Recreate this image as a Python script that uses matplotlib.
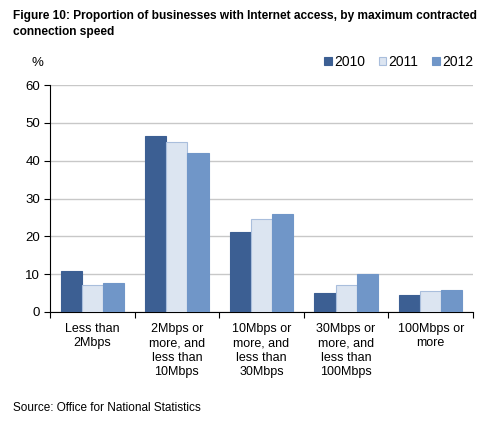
import numpy as np
import matplotlib.pyplot as plt

plt.rcParams['font.family'] = ['Liberation Sans', 'DejaVu Sans']

categories = ["Less than\n2Mbps", "2Mbps or\nmore, and\nless than\n10Mbps",
              "10Mbps or\nmore, and\nless than\n30Mbps", "30Mbps or\nmore, and\nless than\n100Mbps",
              "100Mbps or\nmore"]
years = ["2010", "2011", "2012"]
v2010 = [10.9, 46.6, 21.1, 5.1, 4.6]
v2011 = [7.2, 44.9, 24.5, 7.1, 5.6]
v2012 = [7.7, 42.1, 25.9, 10.1, 5.9]

fills = ["#3c5f93", "#dce5f1", "#7096c8"]
edges = ["#3c5f93", "#a9bedc", "#7096c8"]

fig = plt.figure(figsize=(4.97, 4.21), dpi=100)
ax = fig.add_axes([50/497, 1 - 312/421, 423/497, 227/421])

x = np.arange(len(categories))
w = 0.25
for i, vals in enumerate([v2010, v2011, v2012]):
    ax.bar(x + (i - 1) * w, vals, w, color=fills[i], edgecolor=edges[i],
           linewidth=0.8, label=years[i], zorder=3)

ax.set_xlim(-0.5, len(categories) - 0.5)
ax.set_ylim(0, 60)
ax.set_yticks(range(0, 61, 10))
ax.yaxis.grid(True, color="#c8c8c8", linewidth=1, zorder=0)
for s in ["top", "right"]:
    ax.spines[s].set_visible(False)
ax.spines["left"].set_color("black")
ax.spines["bottom"].set_color("black")
ax.tick_params(axis="y", length=4, labelsize=9.5, colors="black", pad=3)

# category separator ticks
ax.set_xticks(np.arange(-0.5, len(categories), 1.0))
ax.set_xticklabels([])
ax.tick_params(axis="x", length=4, direction="out")
ax.set_xticks(x, minor=True)
ax.set_xticklabels(categories, minor=True, fontsize=9, linespacing=1.25)
ax.tick_params(axis="x", which="minor", length=0, pad=8)

fig.text(13/497, 1 - 24/421, "Figure 10: Proportion of businesses with Internet access, by maximum contracted\nconnection speed",
         fontsize=8.6, fontweight="bold", va="center", linespacing=1.45)
fig.text(32/497, 1 - 63/421, "%", fontsize=9.5, va="center")
fig.text(13/497, 1 - 408/421, "Source: Office for National Statistics", fontsize=8.5, va="center")

ax.legend(loc="lower right", bbox_to_anchor=(1.0, 1.07), ncol=3, frameon=False,
          fontsize=10, handlelength=0.55, handleheight=0.55, handletextpad=0.15,
          columnspacing=1.0, borderaxespad=0, borderpad=0)

fig.savefig("out.png", dpi=100)
